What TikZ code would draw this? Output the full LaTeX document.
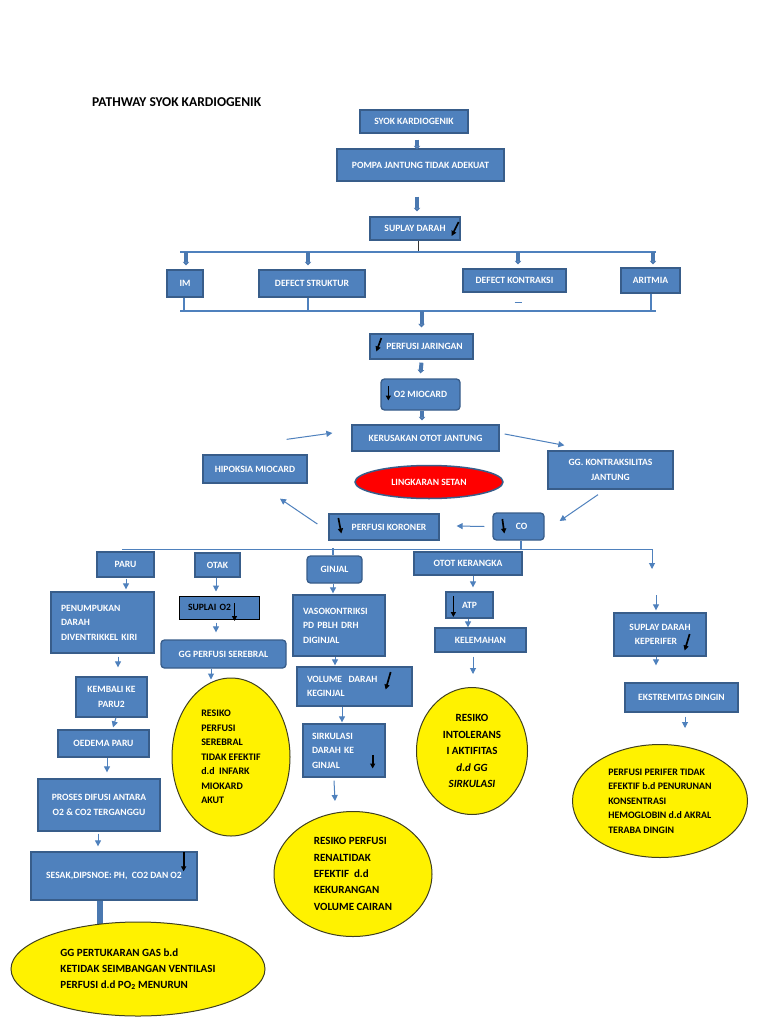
\documentclass[tikz,border=0pt]{standalone}
\usepackage{fontspec}
\setmainfont{Carlito}
\usetikzlibrary{shapes.geometric,arrows.meta,calc}
\definecolor{bfill}{HTML}{4F81BD}
\definecolor{bdraw}{HTML}{385D8A}
\definecolor{ablue}{HTML}{4F81BD}
\definecolor{tblue}{HTML}{4A78B0}
\definecolor{ydraw}{HTML}{404020}
\begin{document}
\begin{tikzpicture}[x=1pt,y=-1pt,
  box/.style={draw=bdraw, fill=bfill, line width=1.3pt, text=white,
    font=\bfseries\fontsize{9.6}{14.5}\selectfont, inner sep=2pt, align=center},
  rbox/.style={box, rounded corners=3.5pt},
  lbox/.style={box, align=left},
  tarr/.style={draw=tblue, line width=4pt, -{Triangle[width=6.5pt,length=3.5pt]}},
  barr/.style={draw=ablue, line width=1pt, -{Triangle[width=6pt,length=6pt]}},
  bus/.style={draw=ablue, line width=1.1pt},
  blk/.style={draw=black, line width=1.7pt, -{Triangle[width=5pt,length=5pt]}},
  yell/.style={ellipse, draw=ydraw, fill=yellow, line width=1pt, inner sep=0pt, text=black}
]
\fill[white] (0,0) rectangle (768,1024);
\useasboundingbox (0,0) rectangle (768,1024);

% title
\node[font=\bfseries\fontsize{13.5}{16}\selectfont, anchor=west, inner sep=0pt] (title) at (92,102.5) {PATHWAY SYOK KARDIOGENIK};

% top chain
\node[box, minimum width=108pt, minimum height=23pt] (syok) at (414,121.5) {SYOK KARDIOGENIK};
\node[box, minimum width=167pt, minimum height=32pt] (pompa) at (420.5,165) {POMPA JANTUNG TIDAK ADEKUAT};
\node[box, minimum width=90pt, minimum height=23pt] (suplay) at (415,228.5) {SUPLAY DARAH};
\draw[tarr] ($(syok.south)+(3,6)$) -- ($(pompa.north)+(-3.5,1)$);
\draw[tarr] ($(pompa.south)+(-3.5,15)$) -- ($(suplay.north)+(2,-5)$);
\draw[blk] ($(suplay.east)+(-2,-6.5)$) -- ($(suplay.east)+(-9,7.5)$);

% first bus
\coordinate (b1L) at (180,252);
\coordinate (b1R) at (656,252);
\draw[draw=black!80, line width=1pt] ($(suplay.south)+(3,0)$) -- ($(suplay.south)+(3,12)$);
\draw[bus] (b1L) -- (b1R);

\node[box, minimum width=36pt, minimum height=27pt] (im) at (185,283.5) {IM};
\node[box, minimum width=106pt, minimum height=27pt] (defstr) at (312,283.5) {DEFECT STRUKTUR};
\node[box, minimum width=103pt, minimum height=23pt] (defkon) at (514.5,280.5) {DEFECT KONTRAKSI};
\node[box, minimum width=59pt, minimum height=25pt] (aritmia) at (650.5,280.5) {ARITMIA};
\draw[tarr] ($(im.north)+(1,-17)$) -- ($(im.north)+(1,-4)$);
\draw[tarr] ($(defstr.north)+(-4,-17)$) -- ($(defstr.north)+(-4,-4)$);
\draw[tarr] ($(defkon.north)+(3.5,-16)$) -- ($(defkon.north)+(3.5,-4)$);
\draw[tarr] ($(aritmia.north)+(2.5,-15)$) -- ($(aritmia.north)+(2.5,-3)$);

% second bus
\coordinate (b2L) at (180,311);
\coordinate (b2R) at (656,311);
\draw[bus] (b2L) -- (b2R);
\draw[bus] ($(im.south)+(-1,0)$) -- ($(im.south)+(-1,14)$);
\draw[bus] ($(defstr.south)+(-4,0)$) -- ($(defstr.south)+(-4,14)$);
\draw[bus] ($(defkon.south)+(0,10)$) -- ($(defkon.south)+(7,10)$);
\draw[bus] ($(aritmia.south)+(0.5,0)$) -- ($(aritmia.south)+(0.5,18)$);

\node[box, minimum width=103pt, minimum height=25pt] (perfjar) at (421.5,346.5) {\hspace*{6pt}PERFUSI JARINGAN};
\node[rbox, minimum width=79pt, minimum height=31pt] (o2) at (420.5,394.5) {O2 MIOCARD};
\node[box, minimum width=147pt, minimum height=26pt] (kerusakan) at (425.5,438) {KERUSAKAN OTOT JANTUNG};
\draw[tarr] ($(perfjar.north)+(0,-22)$) -- ($(perfjar.north)+(0,-6)$);
\draw[tarr] ($(perfjar.south)+(0,3)$) -- ($(o2.north)+(0,-5)$);
\draw[tarr] ($(o2.south)+(1.5,0)$) -- ($(kerusakan.north)+(-3.5,-4)$);
\draw[blk] ($(perfjar.west)+(12,-8.5)$) -- ($(perfjar.west)+(7,5)$);
\draw[blk] ($(o2.west)+(8,-8.5)$) -- ($(o2.west)+(8,6)$);

% vicious circle
\node[box, minimum width=104pt, minimum height=28pt] (hipoksia) at (255,469) {HIPOKSIA MIOCARD};
\node[ellipse, draw=bdraw, fill=red, line width=1.5pt, text=white, font=\bfseries\fontsize{9.6}{12}\selectfont,
  minimum width=148pt, minimum height=33pt, inner sep=0pt] (setan) at (429,482) {LINGKARAN SETAN};
\node[box, minimum width=125pt, minimum height=38pt] (ggkon) at (610.5,470) {GG. KONTRAKSILITAS\\JANTUNG};
\node[rbox, minimum width=51pt, minimum height=27pt] (co) at (518.5,526.5) {\hspace*{6pt}CO};
\node[box, minimum width=110pt, minimum height=26pt] (perfkor) at (384,527) {\hspace*{10pt}PERFUSI KORONER};
\draw[blk] ($(co.west)+(10,-7.5)$) -- ($(co.west)+(12,7)$);
\draw[blk] ($(perfkor.west)+(10,-9)$) -- ($(perfkor.west)+(13,6.5)$);

\draw[barr] ($(hipoksia.north east)+(-21,-15)$) -- ($(kerusakan.west)+(-19,-5)$);
\draw[barr] ($(kerusakan.east)+(5,-4)$) -- ($(ggkon.north west)+(17,-5)$);
\draw[barr] ($(ggkon.south)+(-12.5,5)$) -- ($(co.east)+(15,-5.5)$);
\draw[barr] ($(co.west)+(-8,0)$) -- ($(perfkor.east)+(17,-1)$);
\draw[barr] ($(perfkor.west)+(-11,-3)$) -- ($(hipoksia.south)+(25,15)$);

% third bus
\coordinate (b3L) at (122,549);
\coordinate (b3R) at (652,549);
\draw[bus] ($(co.south)+(2.5,0)$) -- ($(co.south)+(2.5,9)$);
\draw[barr] (b3L) -- (b3R) -- ++(0,20);

\node[box, minimum width=57pt, minimum height=25pt] (paru) at (125.5,564.5) {PARU};
\node[box, minimum width=45pt, minimum height=24pt] (otak) at (217.5,565) {OTAK};
\node[rbox, minimum width=55pt, minimum height=27pt] (ginjal) at (334.5,569.5) {GINJAL};
\node[box, minimum width=108pt, minimum height=23pt] (ototk) at (468,563.5) {OTOT KERANGKA};
\draw[bus] ($(ginjal.north)+(-1.5,0)$) -- ($(ginjal.north)+(-1.5,-7)$);

% PARU column
\node[lbox, minimum width=103pt, minimum height=61pt, text width=83pt, inner xsep=10pt] (penump) at (102.5,622.5) {PENUMPUKAN\\DARAH\\DIVENTRIKKEL KIRI};
\node[box, minimum width=71pt, minimum height=40pt] (kembali) at (111.5,697) {KEMBALI KE\\PARU2};
\node[box, minimum width=91pt, minimum height=27pt] (oedema) at (103.5,743.5) {OEDEMA PARU};
\node[box, minimum width=122pt, minimum height=52pt] (proses) at (99,805) {PROSES DIFUSI ANTARA\\O2 \& CO2 TERGANGGU};
\node[box, minimum width=166pt, minimum height=48pt] (sesak) at (114,876) {SESAK,DIPSNOE: PH,\ \ CO2 DAN O2};
\draw[blk] ($(sesak.north east)+(-14,1)$) -- ($(sesak.north east)+(-14,20)$);
\draw[barr] ($(paru.south)+(0.5,1)$) -- ($(penump.north)+(23.5,-2)$);
\draw[barr] ($(penump.south)+(15.5,3)$) -- ($(kembali.north)+(6.5,-9)$);
\draw[barr] ($(kembali.south)+(4.5,0)$) -- ($(oedema.north)+(9.5,-2)$);
\draw[barr] ($(oedema.south)+(3.5,0)$) -- ($(proses.north)+(8,-6)$);
\draw[barr] ($(proses.south)+(-1,2)$) -- ($(sesak.north)+(-16,-5)$);
\draw[draw=tblue, line width=5.5pt] ($(sesak.south)+(-14,0)$) -- ($(sesak.south)+(-14,26)$);
\node[yell, minimum width=254pt, minimum height=94pt, align=left, font=\bfseries\fontsize{11}{16}\selectfont] (ellgas) at (138,969)
  {GG PERTUKARAN GAS b.d\\KETIDAK SEIMBANGAN VENTILASI\\PERFUSI d.d PO\textsubscript{2} MENURUN};

% OTAK column
\node[box, draw=black, line width=1pt, text=black, align=left, minimum width=80pt, minimum height=23pt, text width=62pt, inner xsep=9pt] (suplai) at (219,607.5) {SUPLAI O2};
\draw[blk] ($(suplai.west)+(56,-4.5)$) -- ($(suplai.west)+(56,13.5)$);
\node[rbox, minimum width=125pt, minimum height=28pt] (ggser) at (223.5,654) {GG PERFUSI SEREBRAL};
\node[yell, minimum width=118pt, minimum height=158pt, align=left, font=\bfseries\fontsize{10}{14.5}\selectfont] (ellser) at (231,757)
  {RESIKO\\PERFUSI\\SEREBRAL\\TIDAK EFEKTIF\\d.d\ \ INFARK\\MIOKARD\\AKUT};
\draw[barr] ($(otak.south)+(-1.5,0)$) -- ($(suplai.north)+(-3,-4)$);
\draw[barr] ($(suplai.south)+(-3,3)$) -- ($(ggser.north)+(-7.5,-7)$);
\draw[barr] ($(ggser.south)+(-12.5,0)$) -- ($(ellser.north)+(-20,2)$);

% GINJAL column
\node[lbox, minimum width=92pt, minimum height=61pt, text width=72pt, inner xsep=10pt] (vaso) at (339,625.5) {VASOKONTRIKSI\\PD PBLH DRH\\DIGINJAL};
\node[lbox, minimum width=115pt, minimum height=39pt, text width=95pt, inner xsep=10pt] (volume) at (354.5,686.5) {VOLUME\ \ DARAH\\KEGINJAL};
\node[lbox, minimum width=82pt, minimum height=53pt, text width=64pt, inner xsep=9pt] (sirk) at (344,750.5) {SIRKULASI\\DARAH KE\\GINJAL};
\draw[blk] ($(volume.east)+(-22,-14.5)$) -- ($(volume.east)+(-27,3)$);
\draw[blk] ($(sirk.east)+(-13,4.5)$) -- ($(sirk.east)+(-13,18)$);
\node[yell, minimum width=158pt, minimum height=125pt, align=left, font=\bfseries\fontsize{11}{16.3}\selectfont] (ellren) at (353,874)
  {RESIKO PERFUSI\\RENALTIDAK\\EFEKTIF\ \ d.d\\KEKURANGAN\\VOLUME CAIRAN};
\draw[barr] ($(ginjal.south)+(-1.5,0)$) -- ($(vaso.north)+(-6,-1)$);
\draw[barr] ($(vaso.south)+(-4,0)$) -- ($(volume.north)+(-19.5,-1)$);
\draw[barr] ($(volume.south)+(-12.5,0)$) -- ($(sirk.north)+(-2,-1)$);
\draw[barr] ($(sirk.south)+(-10,3)$) -- ($(ellren.north)+(-18,-10)$);

% OTOT KERANGKA column
\node[box, minimum width=47pt, minimum height=26pt] (atp) at (469.5,605) {ATP};
\draw[blk] ($(atp.west)+(8,-9)$) -- ($(atp.west)+(8,12)$);
\node[box, minimum width=91pt, minimum height=24pt] (kelemahan) at (480.5,640) {KELEMAHAN};
\node[yell, minimum width=111pt, minimum height=127pt, align=center, font=\bfseries\fontsize{11}{16.5}\selectfont] (ellint) at (472,751)
  {RESIKO\\INTOLERANS\\I AKTIFITAS\\\textit{d.d GG}\\\textit{SIRKULASI}};
\draw[barr] ($(ototk.south)+(5,0)$) -- ($(atp.north)+(3.5,-4)$);
\draw[barr] ($(atp.south)+(-1.5,0)$) -- ($(kelemahan.north)+(-12.5,0)$);
\draw[barr] ($(kelemahan.south)+(-7.5,4)$) -- ($(ellint.north)+(1,-13)$);

% right column
\node[box, minimum width=92pt, minimum height=43pt] (supper) at (660,634.5) {SUPLAY DARAH\\KEPERIFER\hspace*{8pt}};
\draw[blk] ($(supper.east)+(-17,-0.5)$) -- ($(supper.east)+(-22,16)$);
\node[box, minimum width=113pt, minimum height=29pt] (ekstrem) at (681.5,697.5) {EKSTREMITAS DINGIN};
\node[yell, minimum width=175pt, minimum height=113pt, align=left, font=\bfseries\fontsize{9.9}{14.6}\selectfont] (ellper) at (660,801)
  {PERFUSI PERIFER TIDAK\\EFEKTIF b.d PENURUNAN\\KONSENTRASI\\HEMOGLOBIN d.d AKRAL\\TERABA DINGIN};
\draw[barr] ($(supper.north)+(-4,-17)$) -- ($(supper.north)+(-4,-2)$);
\draw[barr] ($(supper.south)+(-4,0)$) -- ($(ekstrem.north)+(-25.5,-17)$);
\draw[barr] ($(ekstrem.south)+(3.5,4)$) -- ($(ellper.north)+(25,-16)$);
\end{tikzpicture}
\end{document}
